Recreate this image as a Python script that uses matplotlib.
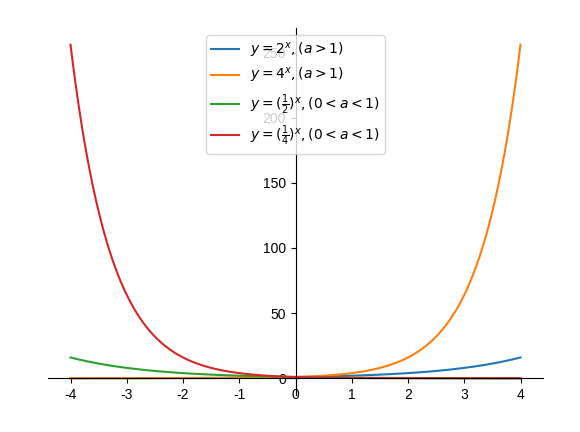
import numpy as np
import matplotlib
matplotlib.use('Agg')
import matplotlib.pyplot as plt

plt.rcParams['font.family'] = ['Liberation Sans', 'DejaVu Sans']
plt.rcParams['axes.unicode_minus'] = False

# 底数与图例文字
bases = [2, 4, 1 / 2, 1 / 4]
labels = [r'$y=2^x,(a>1)$',
          r'$y=4^x,(a>1)$',
          r'$y=(\frac{1}{2})^x,(0<a<1)$',
          r'$y=(\frac{1}{4})^x,(0<a<1)$']
x_min, x_max = -4, 4

x = np.linspace(x_min, x_max, 200)

fig = plt.figure(figsize=(5.8, 4.32), dpi=100)
ax = fig.add_axes([48 / 580, 1 - 395 / 432, 495 / 580, 367 / 432])

for a, lab in zip(bases, labels):
    ax.plot(x, a ** x, label=lab)

# 坐标轴移到原点
ax.spines['right'].set_color('none')
ax.spines['top'].set_color('none')
ax.spines['left'].set_position(('data', 0))
ax.spines['bottom'].set_position(('data', 0))

ax.legend(loc='upper center')
fig.savefig('out.png', dpi=100)
